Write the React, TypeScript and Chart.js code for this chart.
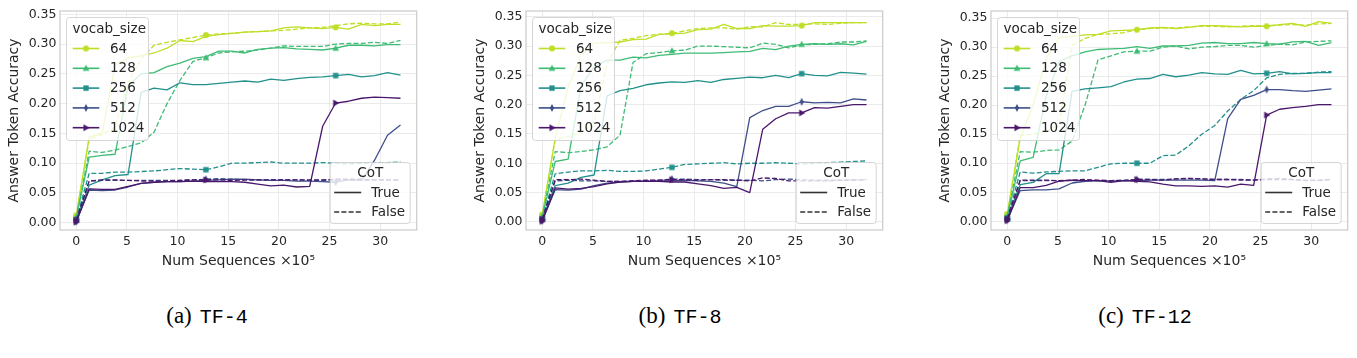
import React, { useEffect, useRef } from "react";
import { Chart, registerables } from "chart.js";
Chart.register(...registerables);

// ---------------- data ----------------
const numSequences = [0, 1.28, 2.56, 3.84, 5.12, 6.4, 7.68, 8.96, 10.24, 11.52, 12.8, 14.08, 15.36, 16.64, 17.92, 19.2, 20.48, 21.76, 23.04, 24.32, 25.6, 26.88, 28.16, 29.44, 30.72, 32];
const vocabSizes = ["64", "128", "256", "512", "1024"];
const cotValues = ["True", "False"];
const modelNames = ["TF-4", "TF-8", "TF-12"];
const subLetters = ["(a)", "(b)", "(c)"];
const xTitle = "Num Sequences \u00d710\u2075";
const yTitle = "Answer Token Accuracy";

// TF-4
const tf4_64_true = [0.012, 0.144, 0.15, 0.265, 0.277, 0.28, 0.285, 0.293, 0.306, 0.304, 0.313, 0.316, 0.318, 0.32, 0.321, 0.322, 0.327, 0.329, 0.327, 0.326, 0.328, 0.325, 0.333, 0.331, 0.333, 0.333];
const tf4_64_false = [0.012, 0.14, 0.148, 0.16, 0.235, 0.275, 0.298, 0.303, 0.307, 0.311, 0.315, 0.317, 0.318, 0.32, 0.321, 0.322, 0.323, 0.325, 0.327, 0.328, 0.331, 0.334, 0.335, 0.334, 0.334, 0.337];
const tf4_128_true = [0.008, 0.11, 0.113, 0.115, 0.23, 0.25, 0.252, 0.262, 0.268, 0.276, 0.279, 0.288, 0.288, 0.285, 0.291, 0.293, 0.294, 0.292, 0.291, 0.29, 0.293, 0.298, 0.298, 0.297, 0.299, 0.299];
const tf4_128_false = [0.008, 0.12, 0.118, 0.122, 0.128, 0.134, 0.152, 0.2, 0.239, 0.271, 0.277, 0.285, 0.287, 0.288, 0.29, 0.293, 0.297, 0.296, 0.296, 0.296, 0.3, 0.301, 0.301, 0.303, 0.301, 0.306];
const tf4_256_true = [0.005, 0.063, 0.072, 0.079, 0.081, 0.219, 0.226, 0.223, 0.235, 0.232, 0.232, 0.234, 0.236, 0.238, 0.236, 0.241, 0.239, 0.242, 0.244, 0.245, 0.247, 0.249, 0.245, 0.247, 0.252, 0.248];
const tf4_256_false = [0.005, 0.083, 0.083, 0.085, 0.085, 0.086, 0.087, 0.089, 0.091, 0.09, 0.089, 0.094, 0.1, 0.1, 0.101, 0.102, 0.1, 0.1, 0.1, 0.101, 0.1, 0.099, 0.1, 0.101, 0.101, 0.102];
const tf4_512_true = [0.002, 0.055, 0.054, 0.055, 0.06, 0.066, 0.068, 0.069, 0.069, 0.07, 0.071, 0.072, 0.073, 0.073, 0.072, 0.071, 0.071, 0.07, 0.07, 0.069, 0.068, 0.072, 0.071, 0.105, 0.147, 0.164];
const tf4_512_false = [0.004, 0.07, 0.071, 0.071, 0.071, 0.071, 0.071, 0.071, 0.071, 0.072, 0.073, 0.074, 0.073, 0.072, 0.072, 0.072, 0.072, 0.072, 0.071, 0.071, 0.072, 0.071, 0.071, 0.072, 0.072, 0.071];
const tf4_1024_true = [0.001, 0.057, 0.056, 0.056, 0.061, 0.066, 0.068, 0.069, 0.069, 0.07, 0.069, 0.069, 0.069, 0.068, 0.065, 0.062, 0.063, 0.06, 0.061, 0.162, 0.201, 0.204, 0.209, 0.211, 0.21, 0.209];
const tf4_1024_false = [0.004, 0.07, 0.072, 0.072, 0.071, 0.07, 0.07, 0.07, 0.071, 0.072, 0.072, 0.072, 0.071, 0.072, 0.072, 0.072, 0.072, 0.072, 0.072, 0.072, 0.073, 0.073, 0.073, 0.072, 0.072, 0.072];

// TF-8
const tf8_64_true = [0.012, 0.143, 0.23, 0.285, 0.305, 0.306, 0.307, 0.311, 0.312, 0.32, 0.321, 0.322, 0.328, 0.329, 0.337, 0.33, 0.33, 0.335, 0.334, 0.334, 0.335, 0.34, 0.34, 0.34, 0.34, 0.34];
const tf8_64_false = [0.012, 0.14, 0.146, 0.152, 0.17, 0.27, 0.31, 0.313, 0.318, 0.32, 0.322, 0.326, 0.33, 0.331, 0.331, 0.329, 0.333, 0.333, 0.34, 0.337, 0.337, 0.338, 0.337, 0.339, 0.34, 0.34];
const tf8_128_true = [0.008, 0.103, 0.107, 0.232, 0.265, 0.276, 0.276, 0.281, 0.28, 0.284, 0.286, 0.288, 0.288, 0.288, 0.289, 0.29, 0.291, 0.296, 0.294, 0.3, 0.303, 0.304, 0.303, 0.304, 0.302, 0.308];
const tf8_128_false = [0.008, 0.12, 0.118, 0.12, 0.123, 0.128, 0.148, 0.272, 0.287, 0.289, 0.292, 0.293, 0.3, 0.3, 0.299, 0.298, 0.297, 0.305, 0.303, 0.297, 0.302, 0.303, 0.304, 0.307, 0.307, 0.309];
const tf8_256_true = [0.005, 0.062, 0.066, 0.076, 0.08, 0.215, 0.224, 0.228, 0.234, 0.237, 0.239, 0.238, 0.241, 0.238, 0.243, 0.245, 0.247, 0.246, 0.25, 0.246, 0.253, 0.25, 0.249, 0.255, 0.254, 0.252];
const tf8_256_false = [0.005, 0.082, 0.085, 0.087, 0.087, 0.088, 0.086, 0.086, 0.087, 0.09, 0.093, 0.098, 0.099, 0.1, 0.101, 0.099, 0.1, 0.1, 0.101, 0.1, 0.099, 0.1, 0.101, 0.102, 0.103, 0.104];
const tf8_512_true = [0.002, 0.055, 0.054, 0.056, 0.062, 0.066, 0.068, 0.069, 0.069, 0.07, 0.07, 0.071, 0.07, 0.069, 0.066, 0.06, 0.178, 0.19, 0.197, 0.197, 0.205, 0.203, 0.204, 0.203, 0.21, 0.208];
const tf8_512_false = [0.004, 0.07, 0.071, 0.07, 0.07, 0.069, 0.069, 0.07, 0.07, 0.071, 0.073, 0.073, 0.072, 0.072, 0.071, 0.071, 0.071, 0.07, 0.072, 0.073, 0.072, 0.071, 0.071, 0.071, 0.072, 0.072];
const tf8_1024_true = [0.001, 0.058, 0.056, 0.057, 0.06, 0.065, 0.068, 0.069, 0.069, 0.069, 0.068, 0.068, 0.065, 0.062, 0.057, 0.059, 0.05, 0.158, 0.176, 0.186, 0.186, 0.195, 0.194, 0.197, 0.2, 0.2];
const tf8_1024_false = [0.004, 0.072, 0.072, 0.073, 0.071, 0.069, 0.069, 0.07, 0.071, 0.071, 0.072, 0.072, 0.071, 0.072, 0.072, 0.071, 0.07, 0.075, 0.074, 0.07, 0.07, 0.07, 0.07, 0.071, 0.071, 0.072];

// TF-12
const tf12_64_true = [0.012, 0.143, 0.2, 0.28, 0.317, 0.319, 0.321, 0.322, 0.328, 0.329, 0.33, 0.333, 0.334, 0.332, 0.334, 0.337, 0.337, 0.336, 0.335, 0.336, 0.336, 0.339, 0.341, 0.336, 0.344, 0.341];
const tf12_64_false = [0.012, 0.148, 0.15, 0.155, 0.165, 0.303, 0.315, 0.322, 0.323, 0.325, 0.33, 0.332, 0.333, 0.333, 0.335, 0.336, 0.336, 0.335, 0.336, 0.337, 0.337, 0.338, 0.339, 0.338, 0.34, 0.341];
const tf12_128_true = [0.008, 0.104, 0.11, 0.215, 0.275, 0.285, 0.292, 0.296, 0.297, 0.298, 0.301, 0.298, 0.302, 0.302, 0.303, 0.307, 0.308, 0.306, 0.306, 0.308, 0.306, 0.305, 0.309, 0.31, 0.303, 0.308];
const tf12_128_false = [0.008, 0.12, 0.119, 0.122, 0.123, 0.138, 0.2, 0.278, 0.285, 0.292, 0.293, 0.293, 0.3, 0.302, 0.297, 0.3, 0.301, 0.303, 0.303, 0.3, 0.303, 0.305, 0.304, 0.309, 0.31, 0.311];
const tf12_256_true = [0.005, 0.063, 0.067, 0.082, 0.082, 0.224, 0.228, 0.23, 0.232, 0.24, 0.245, 0.246, 0.253, 0.249, 0.252, 0.256, 0.254, 0.253, 0.26, 0.254, 0.255, 0.258, 0.254, 0.255, 0.256, 0.256];
const tf12_256_false = [0.005, 0.085, 0.083, 0.085, 0.086, 0.087, 0.087, 0.093, 0.099, 0.1, 0.1, 0.1, 0.113, 0.114, 0.13, 0.15, 0.165, 0.19, 0.21, 0.225, 0.247, 0.253, 0.255, 0.255, 0.257, 0.258];
const tf12_512_true = [0.002, 0.053, 0.054, 0.054, 0.056, 0.066, 0.069, 0.07, 0.069, 0.07, 0.07, 0.071, 0.071, 0.071, 0.071, 0.071, 0.07, 0.177, 0.21, 0.217, 0.227, 0.227, 0.225, 0.224, 0.226, 0.228];
const tf12_512_false = [0.004, 0.07, 0.07, 0.07, 0.07, 0.07, 0.07, 0.07, 0.07, 0.071, 0.072, 0.072, 0.072, 0.073, 0.073, 0.073, 0.072, 0.072, 0.072, 0.071, 0.073, 0.074, 0.072, 0.071, 0.07, 0.072];
const tf12_1024_true = [0.001, 0.058, 0.058, 0.062, 0.069, 0.071, 0.07, 0.07, 0.067, 0.07, 0.069, 0.068, 0.064, 0.061, 0.061, 0.06, 0.061, 0.059, 0.064, 0.062, 0.183, 0.193, 0.196, 0.198, 0.201, 0.201];
const tf12_1024_false = [0.004, 0.071, 0.071, 0.071, 0.07, 0.071, 0.072, 0.071, 0.07, 0.07, 0.072, 0.072, 0.071, 0.073, 0.074, 0.073, 0.072, 0.072, 0.071, 0.071, 0.072, 0.072, 0.072, 0.07, 0.071, 0.072];

const tf4Series = [[tf4_64_true, tf4_64_false], [tf4_128_true, tf4_128_false], [tf4_256_true, tf4_256_false], [tf4_512_true, tf4_512_false], [tf4_1024_true, tf4_1024_false]];
const tf8Series = [[tf8_64_true, tf8_64_false], [tf8_128_true, tf8_128_false], [tf8_256_true, tf8_256_false], [tf8_512_true, tf8_512_false], [tf8_1024_true, tf8_1024_false]];
const tf12Series = [[tf12_64_true, tf12_64_false], [tf12_128_true, tf12_128_false], [tf12_256_true, tf12_256_false], [tf12_512_true, tf12_512_false], [tf12_1024_true, tf12_1024_false]];
const allSeries = [tf4Series, tf8Series, tf12Series];

// ---------------- style ----------------
const vocabColors = ["#bddf26", "#3ebc74", "#22908c", "#3d4e8a", "#4a176c"];
const vocabMarkers = ["o", "^", "s", "d", ">"];
const markIdxTrue = [0, 20];
const markIdxFalse = [0, 10];
const TEXT = "#262626";
const FONT = "'DejaVu Sans', sans-serif";

const layouts = [
  { chartLeft: 60, chartTop: 10, yMin: -0.0122, yMax: 0.3555, capCenter: 207 },
  { chartLeft: 526, chartTop: 7, yMin: -0.0139, yMax: 0.3599, capCenter: 680 },
  { chartLeft: 991, chartTop: 7, yMin: -0.015, yMax: 0.3623, capCenter: 1145 },
];
const CHART_W = 357;
const Y_AXIS_W = 60;
const X_AXIS_H = 50;
const CANVAS_H = 280;
const PAD_R = 4;

function makeMarker(shape: string, color: string): HTMLCanvasElement {
  const s = 10;
  const c = document.createElement("canvas");
  c.width = s;
  c.height = s;
  const g = c.getContext("2d")!;
  g.fillStyle = color;
  const m = s / 2;
  g.beginPath();
  if (shape === "o") g.arc(m, m, 3, 0, Math.PI * 2);
  else if (shape === "^") { g.moveTo(m, m - 3.6); g.lineTo(m + 3.4, m + 2.5); g.lineTo(m - 3.4, m + 2.5); }
  else if (shape === "s") g.rect(m - 2.7, m - 2.7, 5.4, 5.4);
  else if (shape === "d") { g.moveTo(m, m - 3.9); g.lineTo(m + 2.1, m); g.lineTo(m, m + 3.9); g.lineTo(m - 2.1, m); }
  else if (shape === ">") { g.moveTo(m + 3.6, m); g.lineTo(m - 2.5, m - 3.4); g.lineTo(m - 2.5, m + 3.4); }
  g.closePath();
  g.fill();
  return c;
}

const DASH = [5, 2.2];

const overlayPlugin = {
  id: "overlay",
  afterDatasetsDraw(chart: any) {
    const ctx: CanvasRenderingContext2D = chart.ctx;
    const ca = chart.chartArea;
    const markers: HTMLCanvasElement[] = chart.options.plugins.overlay.markers;
    ctx.save();
    // frame
    ctx.strokeStyle = "#cccccc";
    ctx.lineWidth = 1.25;
    ctx.strokeRect(ca.left, ca.top, ca.right - ca.left, ca.bottom - ca.top);

    ctx.font = `13.5px ${FONT}`;
    ctx.textBaseline = "middle";

    // vocab legend
    const bx = ca.left + 6.5, by = ca.top + 6.5, bw = 82, bh = 123;
    ctx.beginPath();
    (ctx as any).roundRect(bx, by, bw, bh, 3);
    ctx.fillStyle = "rgba(255,255,255,0.8)";
    ctx.fill();
    ctx.strokeStyle = "rgba(204,204,204,0.8)";
    ctx.lineWidth = 1;
    ctx.stroke();
    ctx.fillStyle = TEXT;
    ctx.textAlign = "left";
    ctx.fillText("vocab_size", bx + 6, by + 12);
    for (let i = 0; i < vocabSizes.length; i++) {
      const yy = by + 31 + i * 19.8;
      ctx.strokeStyle = vocabColors[i];
      ctx.lineWidth = 1.6;
      ctx.setLineDash([]);
      ctx.beginPath();
      ctx.moveTo(bx + 6.2, yy);
      ctx.lineTo(bx + 32.8, yy);
      ctx.stroke();
      const mk = markers[i];
      ctx.drawImage(mk, bx + 19.5 - mk.width / 2, yy - mk.height / 2);
      ctx.fillStyle = TEXT;
      ctx.fillText(vocabSizes[i], bx + 43.5, yy + 0.5);
    }

    // CoT legend
    const cw = 80, ch = 61;
    const cx = ca.right - 6.5 - cw, cy = ca.bottom - 6.5 - ch;
    ctx.beginPath();
    (ctx as any).roundRect(cx, cy, cw, ch, 3);
    ctx.fillStyle = "rgba(255,255,255,0.8)";
    ctx.fill();
    ctx.strokeStyle = "rgba(204,204,204,0.8)";
    ctx.lineWidth = 1;
    ctx.stroke();
    ctx.fillStyle = TEXT;
    ctx.textAlign = "center";
    ctx.fillText("CoT", cx + cw / 2, cy + 11);
    ctx.textAlign = "left";
    for (let j = 0; j < cotValues.length; j++) {
      const yy = cy + 30 + j * 19.5;
      ctx.strokeStyle = "#333333";
      ctx.lineWidth = 1.6;
      ctx.setLineDash(j === 0 ? [] : DASH);
      ctx.beginPath();
      ctx.moveTo(cx + 4, yy);
      ctx.lineTo(cx + 31, yy);
      ctx.stroke();
      ctx.setLineDash([]);
      ctx.fillText(cotValues[j], cx + 41, yy + 0.5);
    }
    ctx.restore();
  },
};

function Panel({ index }: { index: number }) {
  const ref = useRef<HTMLCanvasElement | null>(null);
  const lay = layouts[index];
  const canvasLeft = lay.chartLeft - Y_AXIS_W;
  const canvasW = Y_AXIS_W + CHART_W + PAD_R;

  useEffect(() => {
    const markers = vocabColors.map((c, i) => makeMarker(vocabMarkers[i], c));
    const series = allSeries[index];
    const datasets: any[] = [];
    let k = 0;
    for (let v = 0; v < vocabSizes.length; v++) {
      for (let c = 0; c < cotValues.length; c++) {
        const marks = c === 0 ? markIdxTrue : markIdxFalse;
        datasets.push({
          label: `${vocabSizes[v]} ${cotValues[c]}`,
          data: numSequences.map((x, i) => ({ x, y: series[v][c][i] })),
          borderColor: vocabColors[v],
          backgroundColor: vocabColors[v],
          borderWidth: 1.3,
          borderDash: c === 0 ? [] : DASH,
          borderJoinStyle: "round",
          pointStyle: markers[v],
          pointRadius: (ctx: any) => (marks.includes(ctx.dataIndex) ? 3 : 0),
          pointHoverRadius: 0,
          tension: 0,
          fill: false,
          order: -k,
        });
        k++;
      }
    }
    const tickFont = { family: FONT, size: 12.5 };
    const titleFont = { family: FONT, size: 14 };
    const chart = new Chart(ref.current!, {
      type: "line",
      data: { datasets },
      plugins: [overlayPlugin as any],
      options: {
        animation: false,
        responsive: false,
        maintainAspectRatio: false,
        events: [],
        layout: { padding: { top: lay.chartTop, right: PAD_R, bottom: 0, left: 0 } },
        plugins: {
          legend: { display: false },
          tooltip: { enabled: false },
          overlay: { markers },
        } as any,
        scales: {
          x: {
            type: "linear",
            min: -1.6,
            max: 33.6,
            afterFit: (s: any) => { s.height = X_AXIS_H; },
            ticks: {
              stepSize: 5,
              includeBounds: false,
              color: TEXT,
              font: tickFont,
              padding: 4.5,
              maxRotation: 0,
              callback: (v: any) => String(v),
            },
            grid: { color: "#e6e6e6", lineWidth: 0.8, drawTicks: false },
            border: { display: false },
            title: { display: true, text: xTitle, color: TEXT, font: titleFont, padding: { top: 0, bottom: 9.9 } },
          },
          y: {
            type: "linear",
            min: lay.yMin,
            max: lay.yMax,
            afterFit: (s: any) => { s.width = Y_AXIS_W; },
            ticks: {
              stepSize: 0.05,
              includeBounds: false,
              color: TEXT,
              font: tickFont,
              padding: 3.5,
              callback: (v: any) => Number(v).toFixed(2),
            },
            grid: { color: "#e6e6e6", lineWidth: 0.8, drawTicks: false },
            border: { display: false },
            title: { display: true, text: yTitle, color: TEXT, font: titleFont, padding: { top: 6.4, bottom: 0 } },
          },
        },
      } as any,
    });
    return () => chart.destroy();
  }, [index]);

  return (
    <>
      <canvas
        ref={ref}
        width={canvasW}
        height={CANVAS_H}
        style={{ position: "absolute", left: canvasLeft, top: 0, width: canvasW, height: CANVAS_H }}
      />
      <div
        style={{
          position: "absolute",
          left: lay.capCenter - 150,
          width: 300,
          top: 303,
          textAlign: "center",
          lineHeight: "26px",
          color: "#000",
          whiteSpace: "nowrap",
        }}
      >
        <span style={{ fontFamily: "'Liberation Serif', 'DejaVu Serif', serif", fontSize: 23 }}>{subLetters[index]}</span>
        <span style={{ fontFamily: "'Liberation Mono', 'DejaVu Sans Mono', monospace", fontSize: 20, marginLeft: 8 }}>{modelNames[index]}</span>
      </div>
    </>
  );
}

export default function App() {
  return (
    <div style={{ position: "absolute", left: 0, top: 0, width: 1357, height: 358, background: "#fff", overflow: "hidden" }}>
      {[0, 1, 2].map((i) => (
        <Panel key={i} index={i} />
      ))}
    </div>
  );
}
